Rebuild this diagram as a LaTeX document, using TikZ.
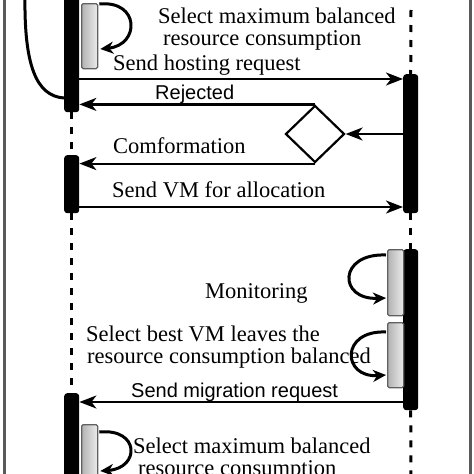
\documentclass[tikz,border=0pt]{standalone}
\usepackage{fontspec}
\setmainfont{Liberation Serif}
\newfontfamily\sansf{Liberation Sans}
\usetikzlibrary{arrows.meta,shapes.geometric}
\begin{document}
\begin{tikzpicture}[x=1pt,y=-1pt,
  bar/.style={fill=black,rounded corners=3pt,inner sep=0pt,draw=none,minimum width=15pt,anchor=north west},
  actbox/.style={left color=gray!60,right color=gray!15,draw=gray!75!black,line width=1.3pt,rounded corners=1.5pt,inner sep=0pt,minimum width=16pt,anchor=north west},
  life/.style={line width=3pt,dash pattern=on 7pt off 8pt},
  msg/.style={line width=2.2pt,-{Stealth[length=17pt,width=13pt,inset=5pt]}},
  loop/.style={line width=3pt,-{Stealth[length=13pt,width=12pt,inset=4pt]}},
  lbl/.style={font=\fontsize{22.5}{22}\selectfont,anchor=base west,inner sep=0pt},
  slbl/.style={font=\sansf\fontsize{20}{22}\selectfont,anchor=base west,inner sep=0pt},
  frame/.style={draw=gray!70!black,line width=3pt}]
\useasboundingbox (0,0) rectangle (474,474);
\clip (0,0) rectangle (474,474);
% frame sides
\draw[frame] (4.5,-5) -- (4.5,480);
\draw[frame] (470.5,-5) -- (470.5,480);
% bars
\node[bar,minimum height=122pt] (lb1) at (64,-10) {};
\node[bar,minimum height=58pt] (lb2) at (64,155) {};
\node[bar,minimum height=100pt] (lb3) at (64,393) {};
\node[bar,minimum height=139pt] (rb1) at (403,74) {};
\node[bar,minimum height=161pt] (rb2) at (403,249) {};
\coordinate (rtop) at (411,10);
\coordinate (rbot) at (411,480);
% lifelines
\draw[life] (lb1.south) -- (lb2.north);
\draw[life] (lb2.south) -- (lb3.north);
\draw[life] (rtop) -- (rb1.north);
\draw[life] (rb1.south) -- (rb2.north);
\draw[life] (rb2.south) -- (rbot);
% activation boxes
\node[actbox,minimum height=65pt] (g1) at (81,3) {};
\node[actbox,minimum height=70pt] (g4) at (81,424) {};
\node[actbox,minimum height=66pt] (g2) at (387,249) {};
\node[actbox,minimum height=65pt] (g3) at (387,322) {};
% big left curve
\coordinate (cstart) at (25,-5);
\draw[line width=3pt] (cstart) .. controls (24,65) and (36,96) .. (lb1.west |- 0,98);
% loops
\draw[loop] ([xshift=1pt]g1.north east |- 0,4) .. controls (140,0) and (140,45) .. ([xshift=2pt]g1.east |- 0,49);
\draw[loop] ([xshift=1pt]g4.north east |- 0,432) .. controls (140,428) and (140,468) .. ([xshift=2pt]g4.east |- 0,471);
\draw[loop] ([xshift=-1pt]g2.west |- 0,255) .. controls (338,253) and (338,300) .. ([xshift=-1pt]g2.west |- 0,298);
\draw[loop] ([xshift=-1pt]g3.west |- 0,332) .. controls (340,330) and (342,378) .. ([xshift=-1pt]g3.west |- 0,375);
% diamond
\node[diamond,draw,line width=2.2pt,minimum width=59pt,minimum height=57pt,inner sep=0pt,fill=white] (dia) at (315,134) {};
% messages
\draw[msg] (lb1.east |- 0,79) -- (rb1.west |- 0,79);
\draw[msg] (dia.north) -- (lb1.east |- dia.north);
\draw[msg] (rb1.west |- dia.east) -- (dia.east);
\draw[msg] (dia.south) -- (lb2.east |- dia.south);
\draw[msg] (lb2.east |- 0,207) -- (rb1.west |- 0,207);
\draw[msg] (rb2.west |- 0,402) -- (lb3.east |- 0,402);
% labels
\node[lbl] (t1) at (158,23) {Select maximum balanced};
\node[lbl] (t2) at (163,45) {resource consumption};
\node[lbl] (t3) at (113,70) {Send hosting request};
\node[slbl] (t4) at (155,99) {Rejected};
\node[lbl] (t5) at (113,153) {Comformation};
\node[lbl] (t6) at (112,197) {Send VM for allocation};
\node[lbl] (t7) at (205,298) {Monitoring};
\node[lbl] (t8) at (86,341) {Select best VM leaves the};
\node[lbl] (t9) at (87,363) {resource consumption balanced};
\node[slbl] (t10) at (131,397) {Send migration request};
\node[lbl] (t11) at (133,453) {Select maximum balanced};
\node[lbl] (t12) at (138,475) {resource consumption};
\end{tikzpicture}
\end{document}
